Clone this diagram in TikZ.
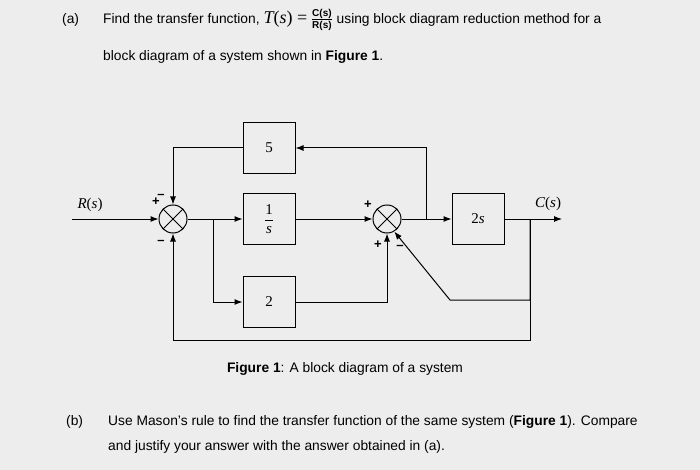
\documentclass[tikz,border=0pt]{standalone}
\usepackage{fontspec}
\setmainfont{Liberation Sans}
\newfontfamily\serifblk{Liberation Serif}
\usetikzlibrary{arrows.meta}
\begin{document}
\begin{tikzpicture}[x=1pt,y=-1pt,
  blk/.style={draw,line width=1pt,minimum width=52pt,minimum height=51pt,font=\serifblk\fontsize{15}{16}\selectfont},
  sumj/.style={draw,circle,line width=1pt,minimum size=28pt,inner sep=0pt,path picture={\draw[line width=1pt] (path picture bounding box.south west)--(path picture bounding box.north east) (path picture bounding box.north west)--(path picture bounding box.south east);}},
  ln/.style={line width=1pt},
  ar/.style={line width=1pt,-{Latex[length=8pt,width=6pt]}},
  sg/.style={font=\fontsize{13}{13}\selectfont\bfseries},
  txt/.style={anchor=west,font=\fontsize{13.8}{15}\selectfont,inner sep=0pt}]
\fill[gray!14] (0,0) rectangle (700,470);
\useasboundingbox (0,0) rectangle (700,470);
% header text
\node[txt] (a) at (62,20) {(a)};
\node[txt] (t1) at (103,20) {Find the transfer function, {\serifblk\fontsize{18}{18}\selectfont\itshape T\upshape(\itshape s\upshape) =}
  $\frac{\mbox{\fontsize{10}{10}\selectfont\bfseries C(s)}}{\mbox{\fontsize{10}{10}\selectfont\bfseries R(s)}}$ using block diagram reduction method for a};
\node[txt] (t2) at (103,57) {block diagram of a system shown in \textbf{Figure 1}.};
\node[font=\fontsize{13.8}{15}\selectfont] (cap) at (345,369) {\textbf{Figure 1}: A block diagram of a system};
\node[txt] (b) at (66,422) {(b)};
\node[txt] (t3) at (108,422) {Use Mason's rule to find the transfer function of the same system (\textbf{Figure 1}). Compare};
\node[txt] (t4) at (108,447) {and justify your answer with the answer obtained in (a).};
% blocks
\node[sumj] (s1) at (173,219) {};
\node[sumj] (s2) at (387,219) {};
\node[blk] (b5) at (269,148) {5};
\node[blk] (bi) at (269,219) {$\displaystyle\frac{\mbox{1}}{\mbox{\itshape s}}$};
\node[blk] (b2) at (269,302) {2};
\node[blk] (b2s) at (478,219) {2\textit{s}};
\coordinate (rin) at (72,219);
\coordinate (out) at (562,219);
\coordinate (p1) at (213,219);
\coordinate (p2) at (426,219);
\coordinate (p3) at (530,219);
\node[font=\serifblk\fontsize{15}{16}\selectfont] (rl) at (90,205) {\textit{R}(\textit{s})};
\node[font=\serifblk\fontsize{15}{16}\selectfont] (cl) at (548,204) {\textit{C}(\textit{s})};
% connectors
\draw[ar] (rin) -- (s1);
\draw[ln] (s1) -- (p1);
\draw[ar] (p1) -- (bi);
\draw[ar] (p1) |- (b2);
\draw[ar] (bi) -- (s2);
\draw[ln] (s2) -- (p2);
\draw[ar] (p2) -- (b2s);
\draw[ar] (p2) |- (b5);
\draw[ar] (b5) -| (s1);
\draw[ar] (b2s) -- (out);
\draw[ar] (b2) -| (s2);
\draw[ar] (p3) |- (450,300) -- (s2.-60);
\draw[ar] (p3) |- (173,340) -- (s1);
% signs
\node[sg] at (156,202) {+};
\node[sg] at (161,196) {–};
\node[sg] at (161,242) {–};
\node[sg] at (368,205) {+};
\node[sg] at (378,245) {+};
\node[sg] at (400,247) {–};
\end{tikzpicture}
\end{document}
